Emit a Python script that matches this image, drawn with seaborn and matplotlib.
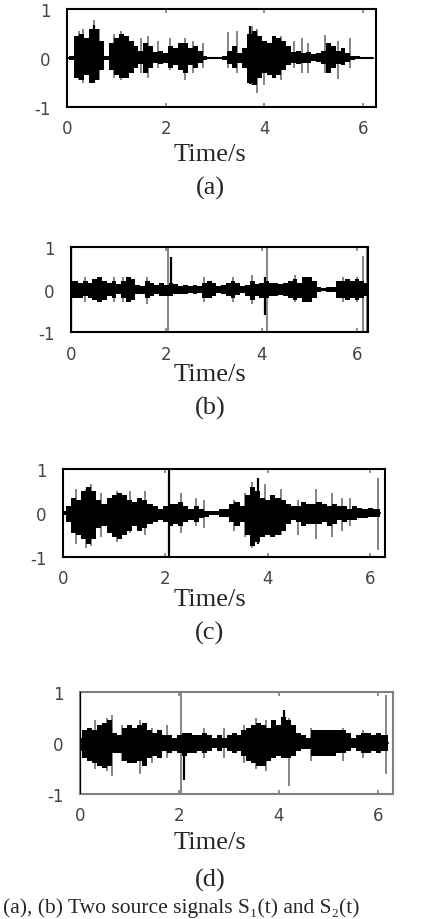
import numpy as np
import pandas as pd
import matplotlib
matplotlib.use("Agg")
import matplotlib.pyplot as plt
import seaborn as sns

# envelope samples, one value every 0.1 s (t = 0.0 .. 6.2)
time_s = [round(0.1 * i, 1) for i in range(63)]

a_upper = [0.02, 0.05, 0.45, 0.5, 0.4, 0.6, 0.6, 0.35, 0.05, 0.3, 0.4, 0.5, 0.45, 0.35, 0.25, 0.15,
           0.3, 0.25, 0.12, 0.15, 0.1, 0.25, 0.2, 0.3, 0.3, 0.2, 0.25, 0.15, 0.05, 0.03, 0.03, 0.03,
           0.05, 0.15, 0.25, 0.1, 0.2, 0.5, 0.55, 0.45, 0.35, 0.3, 0.45, 0.4, 0.35, 0.25, 0.12, 0.15,
           0.1, 0.12, 0.08, 0.1, 0.15, 0.3, 0.25, 0.15, 0.2, 0.1, 0.05, 0.04, 0.03, 0.03, 0.02]
a_lower = [-0.02, -0.05, -0.4, -0.45, -0.35, -0.5, -0.45, -0.25, -0.05, -0.25, -0.35, -0.4, -0.4, -0.3,
           -0.2, -0.12, -0.3, -0.2, -0.1, -0.12, -0.1, -0.2, -0.15, -0.25, -0.3, -0.15, -0.2, -0.1,
           -0.05, -0.03, -0.03, -0.03, -0.05, -0.12, -0.2, -0.1, -0.2, -0.5, -0.55, -0.4, -0.3, -0.35,
           -0.4, -0.35, -0.25, -0.15, -0.1, -0.12, -0.1, -0.1, -0.06, -0.08, -0.12, -0.3, -0.2, -0.12,
           -0.15, -0.08, -0.04, -0.03, -0.03, -0.03, -0.02]

b_upper = [0.2, 0.2, 0.15, 0.2, 0.15, 0.25, 0.3, 0.2, 0.15, 0.2, 0.12, 0.2, 0.3, 0.25, 0.1, 0.08,
           0.2, 0.15, 0.1, 0.15, 0.1, 0.15, 0.12, 0.08, 0.1, 0.08, 0.1, 0.08, 0.15, 0.2, 0.15, 0.08,
           0.1, 0.15, 0.2, 0.15, 0.08, 0.1, 0.2, 0.12, 0.15, 0.2, 0.15, 0.15, 0.12, 0.15, 0.2, 0.25,
           0.15, 0.3, 0.3, 0.2, 0.05, 0.04, 0.05, 0.05, 0.2, 0.2, 0.25, 0.2, 0.25, 0.2, 0.15]
b_lower = [-0.2, -0.2, -0.2, -0.15, -0.2, -0.25, -0.3, -0.25, -0.15, -0.2, -0.1, -0.2, -0.3, -0.25,
           -0.1, -0.1, -0.2, -0.15, -0.1, -0.15, -0.15, -0.15, -0.1, -0.1, -0.1, -0.08, -0.1, -0.08,
           -0.2, -0.2, -0.15, -0.08, -0.1, -0.15, -0.2, -0.12, -0.08, -0.15, -0.25, -0.15, -0.2, -0.2,
           -0.15, -0.15, -0.12, -0.15, -0.2, -0.25, -0.2, -0.3, -0.3, -0.2, -0.05, -0.04, -0.05, -0.05,
           -0.2, -0.2, -0.25, -0.2, -0.25, -0.2, -0.15]

c_upper = [0.05, 0.15, 0.35, 0.3, 0.5, 0.6, 0.5, 0.3, 0.2, 0.35, 0.4, 0.45, 0.4, 0.3, 0.25, 0.35,
           0.3, 0.2, 0.15, 0.1, 0.15, 0.2, 0.2, 0.25, 0.15, 0.1, 0.15, 0.1, 0.05, 0.05, 0.05, 0.08,
           0.1, 0.2, 0.25, 0.15, 0.4, 0.6, 0.5, 0.35, 0.3, 0.4, 0.35, 0.3, 0.2, 0.15, 0.15, 0.25,
           0.2, 0.2, 0.25, 0.2, 0.15, 0.2, 0.15, 0.15, 0.1, 0.15, 0.12, 0.1, 0.12, 0.1, 0.08]
c_lower = [-0.05, -0.2, -0.45, -0.5, -0.6, -0.7, -0.6, -0.35, -0.3, -0.45, -0.55, -0.6, -0.5, -0.4,
           -0.3, -0.4, -0.35, -0.25, -0.2, -0.15, -0.2, -0.3, -0.25, -0.3, -0.2, -0.15, -0.2, -0.12,
           -0.08, -0.05, -0.05, -0.08, -0.1, -0.2, -0.3, -0.2, -0.5, -0.75, -0.65, -0.55, -0.5, -0.55,
           -0.5, -0.4, -0.25, -0.15, -0.2, -0.3, -0.25, -0.25, -0.25, -0.2, -0.3, -0.25, -0.15, -0.2,
           -0.15, -0.15, -0.12, -0.12, -0.1, -0.1, -0.08]

d_upper = [0.1, 0.25, 0.3, 0.25, 0.35, 0.4, 0.45, 0.2, 0.15, 0.3, 0.35, 0.3, 0.35, 0.4, 0.25, 0.2,
           0.25, 0.15, 0.15, 0.1, 0.15, 0.2, 0.2, 0.15, 0.15, 0.2, 0.15, 0.1, 0.15, 0.1, 0.15, 0.2,
           0.15, 0.25, 0.3, 0.35, 0.4, 0.35, 0.3, 0.45, 0.35, 0.5, 0.45, 0.35, 0.2, 0.15, 0.1, 0.25,
           0.25, 0.25, 0.25, 0.25, 0.25, 0.25, 0.2, 0.1, 0.15, 0.2, 0.2, 0.15, 0.2, 0.15, 0.15]
d_lower = [-0.15, -0.3, -0.35, -0.4, -0.45, -0.5, -0.45, -0.2, -0.2, -0.35, -0.4, -0.4, -0.35, -0.45,
           -0.3, -0.25, -0.3, -0.15, -0.2, -0.15, -0.2, -0.25, -0.2, -0.2, -0.15, -0.2, -0.15, -0.1,
           -0.15, -0.1, -0.15, -0.2, -0.15, -0.25, -0.35, -0.4, -0.45, -0.45, -0.35, -0.3, -0.25, -0.3,
           -0.3, -0.25, -0.15, -0.12, -0.12, -0.25, -0.25, -0.25, -0.25, -0.25, -0.2, -0.2, -0.15, -0.1,
           -0.15, -0.2, -0.2, -0.15, -0.2, -0.15, -0.15]

# single strokes sticking out of the envelope: time, top, bottom
a_gray_t = [0.25, 0.33, 0.55, 0.65, 0.95, 1.1, 1.5, 1.65, 1.85, 2.1, 2.4, 2.55, 2.75, 3.27, 3.44, 3.75, 3.85, 4.0, 4.35, 4.6, 4.76, 4.9, 5.23, 5.5, 5.75]
a_gray_hi = [0.55, 0.6, 0.78, 0.6, 0.5, 0.55, 0.4, 0.45, 0.35, 0.4, 0.4, 0.35, 0.3, 0.53, 0.55, 0.65, 0.6, 0.35, 0.45, 0.35, 0.4, 0.3, 0.47, 0.35, 0.4]
a_gray_lo = [-0.45, -0.5, -0.5, -0.45, -0.4, -0.45, -0.3, -0.4, -0.2, -0.25, -0.45, -0.3, -0.2, -0.2, -0.3, -0.55, -0.72, -0.55, -0.45, -0.2, -0.3, -0.3, -0.3, -0.43, -0.2]
a_dark_t = [0.55, 3.72]
a_dark_hi = [0.68, 0.65]
a_dark_lo = [-0.5, -0.53]

b_gray_t = [2.03, 4.12, 6.12, 6.2, 0.3, 0.9, 1.1, 1.6, 2.8, 3.4, 3.8, 4.7, 5.7, 6.0]
b_gray_hi = [1.0, 1.0, 0.78, 1.0, 0.3, 0.3, 0.3, 0.3, 0.3, 0.3, 0.35, 0.35, 0.3, 0.3]
b_gray_lo = [-1.0, -1.0, -1.0, -1.0, -0.3, -0.3, -0.3, -0.35, -0.3, -0.3, -0.35, -0.3, -0.3, -0.3]
b_dark_t = [0.0, 2.1, 4.07]
b_dark_hi = [1.0, 0.76, 0.3]
b_dark_lo = [-1.0, -0.1, -0.6]

c_gray_t = [0.0, 0.25, 0.45, 0.55, 0.75, 1.05, 1.3, 1.6, 2.3, 2.6, 2.75, 3.35, 3.55, 3.7, 3.95, 4.25, 4.6, 4.95, 5.25, 5.45, 5.6, 6.15]
c_gray_hi = [1.0, 0.55, 0.55, 0.65, 0.45, 0.5, 0.5, 0.5, 0.45, 0.35, 0.3, 0.3, 0.45, 0.7, 0.65, 0.55, 0.3, 0.55, 0.45, 0.35, 0.35, 0.8]
c_gray_lo = [-1.0, -0.7, -0.8, -0.75, -0.55, -0.65, -0.45, -0.5, -0.45, -0.3, -0.35, -0.4, -0.55, -0.8, -0.45, -0.5, -0.5, -0.6, -0.55, -0.4, -0.3, -0.85]
c_dark_t = [2.08, 3.8]
c_dark_hi = [1.0, 0.8]
c_dark_lo = [-1.0, -0.7]

d_gray_t = [0.3, 0.55, 0.65, 0.85, 1.2, 1.45, 1.75, 2.03, 2.5, 2.9, 3.3, 3.55, 3.75, 4.2, 4.65, 5.3, 5.7, 6.15]
d_gray_hi = [0.45, 0.5, 0.55, 0.35, 0.45, 0.3, 0.35, 1.0, 0.3, 0.3, 0.35, 0.5, 0.45, 0.5, 0.3, 0.3, 0.25, 0.95]
d_gray_lo = [-0.5, -0.55, -0.65, -0.35, -0.6, -0.4, -0.3, -1.0, -0.3, -0.3, -0.4, -0.5, -0.55, -0.85, -0.35, -0.35, -0.3, -0.6]
d_dark_t = [0.0, 2.1, 4.1]
d_dark_hi = [1.0, 0.2, 0.65]
d_dark_lo = [-1.0, -0.72, -0.3]

x_ticks = [0, 2, 4, 6]
y_ticks = [-1, 0, 1]
panel_tags = ["(a)", "(b)", "(c)", "(d)"]
x_label = "Time/s"
caption = "(a), (b) Two source signals S\u2081(t) and S\u2082(t)"

sns.set_theme(style="white")
plt.rcParams["font.family"] = ["DejaVu Sans"]
plt.rcParams["axes.unicode_minus"] = False
serif = ["Liberation Serif", "DejaVu Serif"]

W, H = 424, 920
fig = plt.figure(figsize=(W / 100, H / 100), dpi=100)

# pixel boxes of the panels: left, right, top, bottom, right x limit, frame colour
boxes = [
    (67, 376, 10, 108, 6.27, "black"),
    (71, 368, 248, 333, 6.23, "black"),
    (63, 385, 470, 558, 6.29, "black"),
    (80, 393, 693, 795, 6.30, "#808080"),
]
label_rows = [(155, 188), (375, 408), (600, 633), (843, 880)]

panels = [
    (a_upper, a_lower, a_gray_t, a_gray_hi, a_gray_lo, a_dark_t, a_dark_hi, a_dark_lo),
    (b_upper, b_lower, b_gray_t, b_gray_hi, b_gray_lo, b_dark_t, b_dark_hi, b_dark_lo),
    (c_upper, c_lower, c_gray_t, c_gray_hi, c_gray_lo, c_dark_t, c_dark_hi, c_dark_lo),
    (d_upper, d_lower, d_gray_t, d_gray_hi, d_gray_lo, d_dark_t, d_dark_hi, d_dark_lo),
]

for i, (box, rows, data) in enumerate(zip(boxes, label_rows, panels)):
    left, right, top, bottom, xmax, frame = box
    ax = fig.add_axes([left / W, 1 - bottom / H, (right - left) / W, (bottom - top) / H])
    upper, lower, g_t, g_hi, g_lo, k_t, k_hi, k_lo = data

    ax.vlines(g_t, g_lo, g_hi, color="#858585", lw=1.4, zorder=1)
    ax.fill_between(time_s, lower, upper, step="mid", color="black", lw=0, zorder=2)
    ax.vlines(k_t, k_lo, k_hi, color="black", lw=1.6, zorder=3)
    zero = pd.DataFrame({"t": [0, time_s[-1]], "v": [0, 0]})
    sns.lineplot(data=zero, x="t", y="v", ax=ax, color="black", lw=1.5, zorder=2)

    ax.set_xlim(0, xmax)
    ax.set_ylim(-1, 1)
    ax.set_xticks(x_ticks)
    ax.set_yticks(y_ticks)
    ax.set_xlabel("")
    ax.set_ylabel("")
    ax.tick_params(axis="x", direction="in", length=3, width=1.2, color="#808080",
                   top=True, bottom=True, labelsize=12, labelcolor="#444444", pad=9)
    ax.tick_params(axis="y", length=0, labelsize=12, labelcolor="#444444", pad=12)
    for s in ax.spines.values():
        s.set_visible(True)
        s.set_color(frame)
        s.set_linewidth(1.5)

    fig.text(210 / W, 1 - rows[0] / H, x_label, ha="center", va="center", fontsize=19, family=serif)
    fig.text(210 / W, 1 - rows[1] / H, panel_tags[i], ha="center", va="center", fontsize=19, family=serif)

# caption sits at the very bottom edge; sized so it stays inside the picture
fig.text(3 / W, 1 - 898 / H, caption, ha="left", va="top", fontsize=15.5, family=serif)

fig.savefig("out.png", dpi=100)
